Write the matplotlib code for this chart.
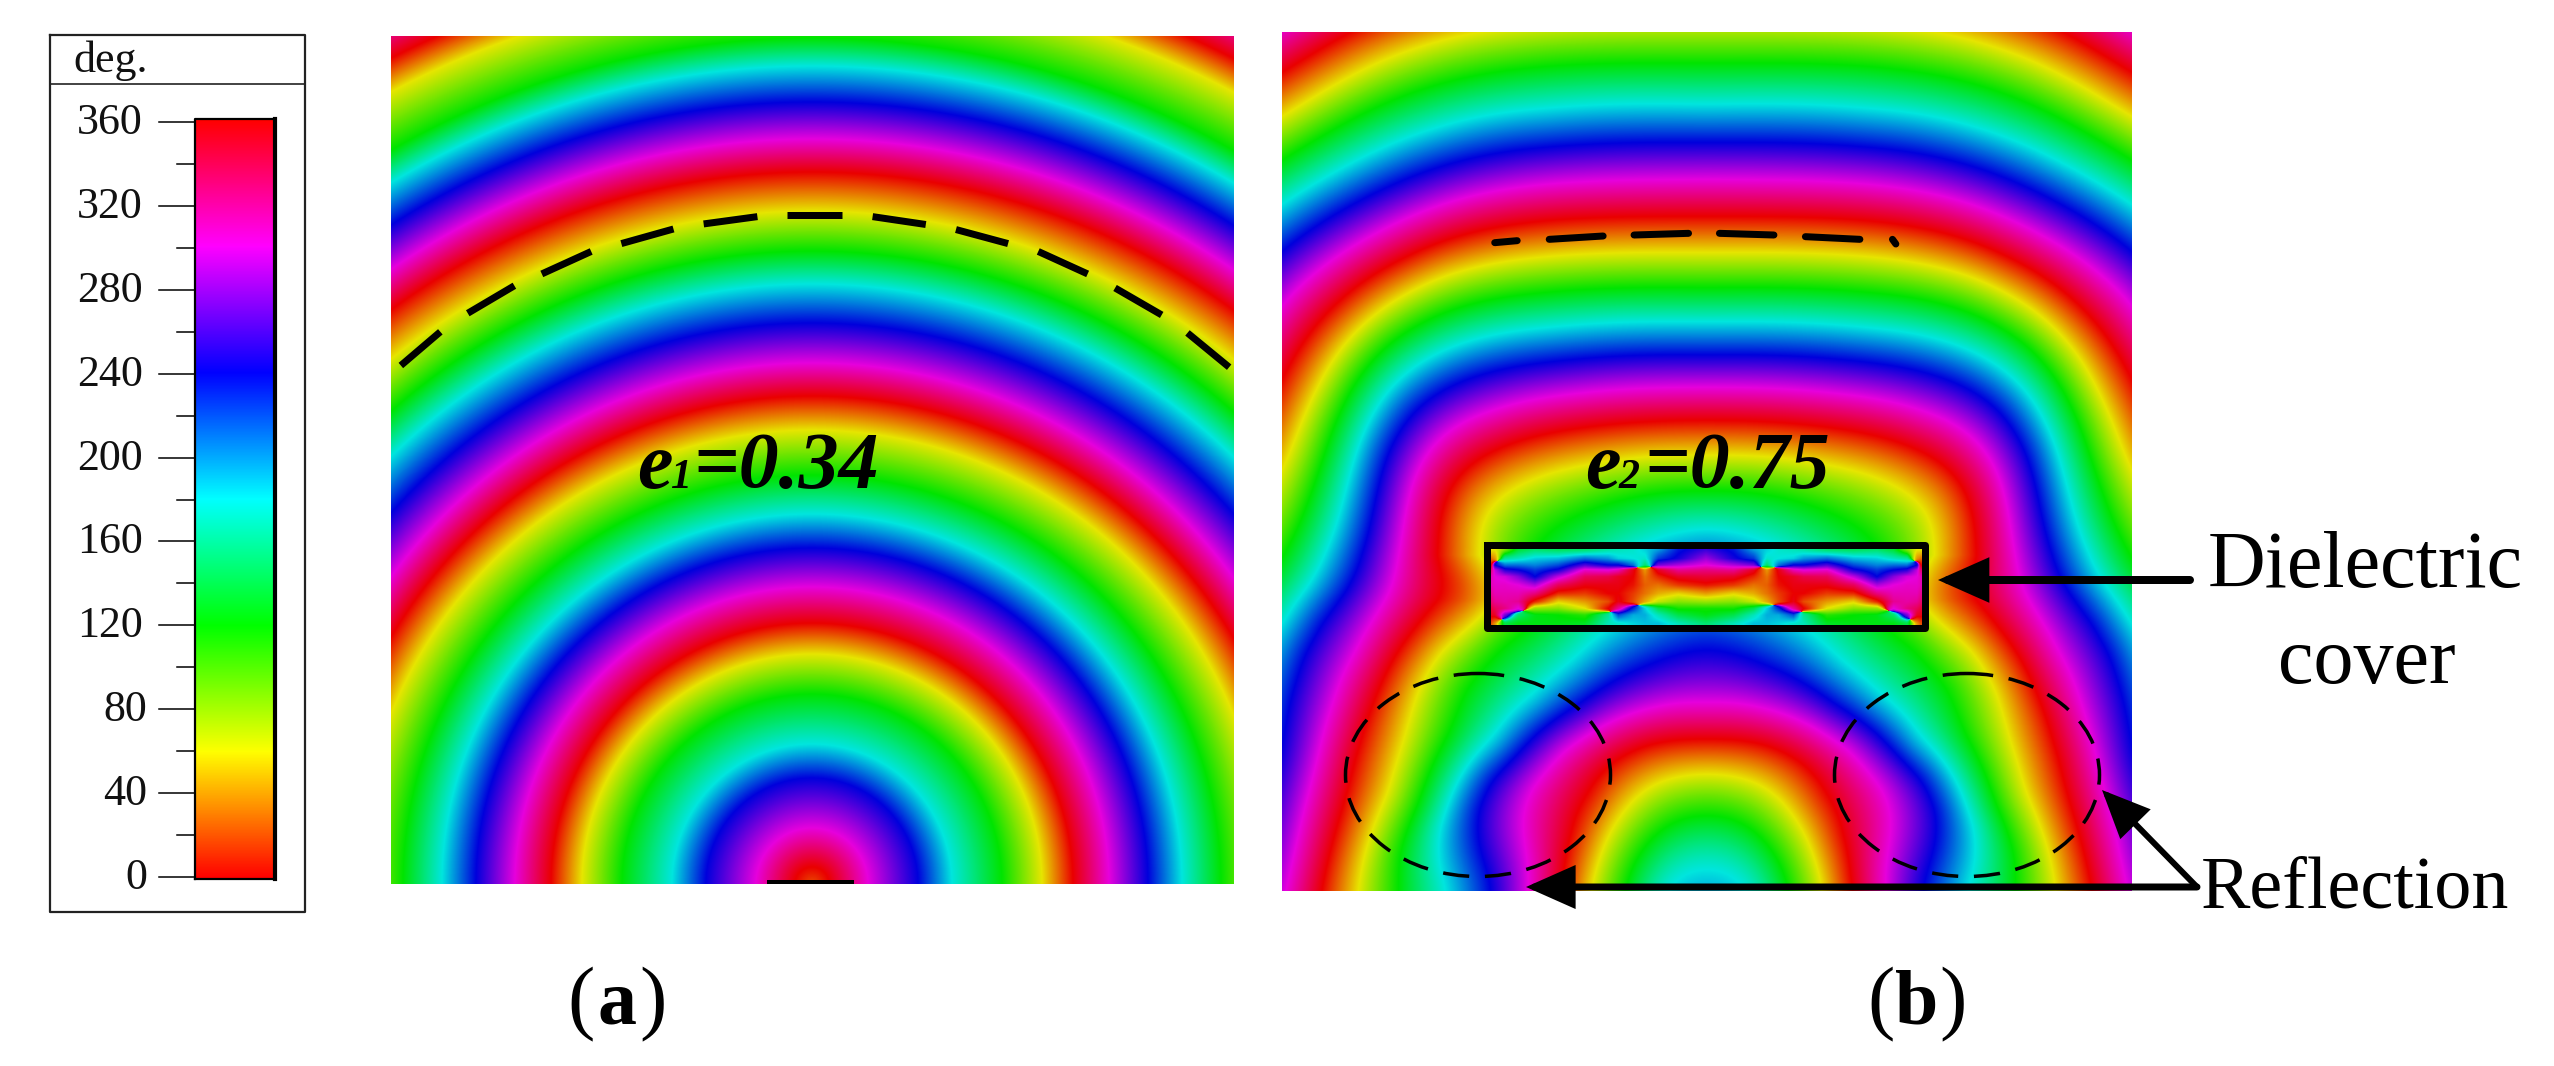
import numpy as np
import matplotlib
matplotlib.use('Agg')
import matplotlib.pyplot as plt
from matplotlib.colors import LinearSegmentedColormap
from matplotlib.patches import Ellipse

# colour bar
bar_ticks = [0, 40, 80, 120, 160, 200, 240, 280, 320, 360]
bar_minor = [20, 60, 100, 140, 180, 220, 260, 300, 340]

# panel (a): radius from the source (px) and phase (deg)
a_radius = [0, 17, 56, 106, 140, 190, 230, 261, 297, 336, 370, 409, 454, 488, 521, 561,
            600, 633, 673, 712, 745, 782, 818, 846, 897, 927, 1000]
a_phase = [20, 0, -60, -120, -180, -240, -300, -360, -420, -480, -540, -600, -660, -720, -780, -840,
           -900, -960, -1020, -1080, -1140, -1200, -1260, -1320, -1380, -1440, -1560]

# panel (b), above the cover: points along the lines of equal phase
up_levels = [-780, -720, -660, -600, -540, -480, -420, -360, -300, -240, -180, -120, -60, 0, 60, 120, 180, 240]
up_lines = [
    [(25, 37)],
    [(130, 37), (25, 170)],
    [(340, 37), (200, 110), (100, 200), (25, 290)],
    [(778, 130), (500, 130), (300, 190), (150, 290), (25, 420)],
    [(778, 270), (500, 280), (300, 330), (150, 430), (25, 540)],
    [(778, 365), (500, 385), (350, 420), (200, 510), (25, 690)],
    [(778, 470), (500, 485), (350, 530), (200, 640), (25, 800)],
    [(778, 590), (500, 600), (350, 640), (250, 720), (120, 880), (25, 1100)],
    [(778, 700), (500, 710), (300, 760), (180, 900), (100, 1100), (60, 1300)],
    [(778, 810), (500, 820), (300, 880), (200, 960), (140, 1100), (60, 1500), (25, 1680)],
    [(778, 905), (500, 930), (300, 1000), (200, 1120), (170, 1250), (130, 1500), (70, 1700), (30, 1800)],
    [(778, 1020), (500, 1030), (350, 1080), (250, 1150), (190, 1280), (190, 1500), (140, 1700), (87, 1800), (57, 1900)],
    [(778, 1100), (550, 1130), (400, 1200), (280, 1290), (240, 1500), (225, 1700), (181, 1800), (158, 1900)],
    [(778, 1190), (500, 1240), (400, 1300), (300, 1400), (290, 1540), (340, 1660), (330, 1700), (259, 1830), (217, 1930)],
    [(778, 1340), (500, 1350), (370, 1430), (350, 1540), (385, 1640)],
    [(778, 1440), (560, 1500), (410, 1540)],
    [(778, 1520), (700, 1540)],
    [(778, 1560)],
]

# panel (b), below the cover
low_levels = [120, 180, 240, 300, 360, 420, 480, 540, 590, 600, 660, 720, 780, 840, 900]
low_lines = [
    [(65, -300)],
    [(183, -300), (82, -99), (15, 0)],
    [(284, -300), (200, -99), (110, 0), (60, 100), (20, 250), (5, 400)],
    [(368, -300), (335, -99), (270, 0), (230, 100), (160, 250), (110, 400), (70, 550), (40, 700), (20, 810)],
    [(453, -260), (537, -140), (537, -99), (400, 30), (330, 120), (250, 300), (210, 420), (170, 600), (120, 780)],
    [(590, 15), (470, 90), (400, 220), (370, 360), (330, 520), (270, 640), (230, 780)],
    [(640, 60), (540, 200), (510, 350), (420, 560), (345, 700), (350, 810)],
    [(950, 40), (870, 130), (760, 240), (650, 370), (520, 500), (460, 620), (465, 730), (510, 810)],
    [(1275, 45)],
    [(1275, 90), (1100, 140), (900, 260), (760, 340), (620, 470), (580, 570), (590, 680), (640, 800)],
    [(1275, 260), (1100, 270), (960, 310), (840, 380), (740, 500), (720, 600), (745, 750)],
    [(1275, 360), (1100, 370), (980, 430), (930, 530), (880, 650), (850, 780)],
    [(1275, 460), (1120, 490), (1040, 560), (970, 660), (925, 780)],
    [(1275, 590), (1170, 610), (1080, 700), (1040, 810)],
    [(1275, 760), (1160, 790), (1130, 810)],
]

# inside the cover: phase on a coarse grid, left half (crop units)
cov_x = [18, 30, 60, 100, 150, 220, 300, 370, 400, 445, 480, 520, 580, 663]
cov_y = [15, 40, 60, 75, 95, 120, 145, 170, 190, 210, 235]
cov_phase = [
    [60, 30, 0, 330, 310, 310, 320, 330, 345, 355, 20],
    [60, 40, 240, 290, 300, 305, 310, 320, 335, 350, 40],
    [90, 160, 210, 250, 295, 305, 310, 315, 325, 270, 140],
    [135, 170, 210, 240, 275, 300, 310, 320, 300, 150, 125],
    [150, 185, 205, 225, 240, 285, 325, 10, 80, 125, 125],
    [145, 190, 220, 245, 290, 335, 10, 55, 85, 120, 125],
    [150, 210, 260, 305, 335, 355, 15, 40, 60, 110, 130],
    [165, 200, 240, 300, 340, 355, 0, 20, 0, 160, 170],
    [170, 185, 240, 310, 350, 355, 0, 355, 320, 220, 175],
    [175, 180, 210, 355, 0, 5, 15, 20, 230, 195, 185],
    [185, 175, 150, 40, 30, 25, 30, 45, 185, 195, 190],
    [200, 225, 270, 350, 10, 30, 45, 70, 140, 170, 190],
    [235, 245, 285, 320, 350, 15, 55, 85, 115, 140, 170],
    [255, 280, 300, 325, 345, 5, 40, 80, 115, 125, 150],
]

# dashed wave fronts, start and end of every dash (crop units)
a_dashes = [(38, 615), (110, 555), (160, 522), (245, 473), (295, 452), (385, 412), (440, 398), (535, 372),
            (590, 363), (688, 350), (742, 347), (842, 347), (898, 350), (995, 364), (1050, 373), (1145, 398),
            (1200, 412), (1290, 452), (1340, 477), (1425, 525), (1472, 557), (1548, 618)]
b_dashes = [(400, 668), (440, 662), (497, 658), (593, 648), (648, 645), (745, 640),
            (800, 640), (897, 645), (953, 650), (1050, 658), (1108, 658), (1114, 672)]

SERIF = 'Liberation Serif'
hues = ['#ea0000', '#e6e600', '#00e400', '#00e6de', '#0000dc', '#e600dc', '#ea0000']
hues_bar = ['#ff0000', '#ffff00', '#00ff00', '#00ffff', '#0000ff', '#ff00ff', '#ff0000']
cmap_panel = LinearSegmentedColormap.from_list('phase', hues, N=1024)
cmap_bar = LinearSegmentedColormap.from_list('phase_bar', hues_bar, N=1024)


def px(size):
    # font size in points from a height in pixels
    return size * 72 / 100


def collect(levels, lines, cx, oy, sx, sy):
    xs, ys, vs = [], [], []
    for lev, pts in zip(levels, lines):
        for zx, zy in pts:
            dx = (cx - zx) / sx
            y = oy + zy / sy
            xs.append(dx)
            ys.append(y)
            vs.append(lev)
            if dx > 1:
                xs.append(-dx)
                ys.append(y)
                vs.append(lev)
    return np.array(xs), np.array(ys), np.array(vs, float)


def tps_field(xs, ys, vs, gx, gy, lam):
    # smoothing thin plate spline through the phase points, evaluated row by row
    xn, yn = xs / 100, ys / 100
    n = len(xn)
    r2 = (xn[:, None] - xn[None, :]) ** 2 + (yn[:, None] - yn[None, :]) ** 2
    K = 0.5 * r2 * np.log(r2 + 1e-9) + lam * np.eye(n)
    P = np.column_stack([np.ones(n), xn, yn])
    A = np.block([[K, P], [P.T, np.zeros((3, 3))]])
    sol = np.linalg.solve(A, np.r_[vs, np.zeros(3)])
    w, c = sol[:n], sol[n:]
    out = np.zeros((len(gy), len(gx)))
    gxn = gx / 100
    for i, yy in enumerate(gy / 100):
        d2 = (gxn[:, None] - xn) ** 2 + (yy - yn) ** 2
        out[i] = (0.5 * d2 * np.log(d2 + 1e-9)) @ w + c[0] + c[1] * gxn + c[2] * yy
    return out


def interp_cols(new, old, arr):
    # interp along the first axis
    return np.array([np.interp(new, old, arr[:, j]) for j in range(arr.shape[1])]).T


fig = plt.figure(figsize=(25.54, 10.66), dpi=100)
ax = fig.add_axes([0, 0, 1, 1])

# colour bar box
y0, y360 = 877, 122
ax.plot([50, 305, 305, 50, 50], [35, 35, 912, 912, 35], color='#222222', lw=1.6)
ax.plot([50, 305], [84, 84], color='#222222', lw=1.2)
ax.imshow(np.linspace(360, 0, 760)[:, None], cmap=cmap_bar, vmin=0, vmax=360, aspect='auto',
          extent=[195, 275, y0 + 2, y360 - 3])
ax.plot([195, 275, 275, 195, 195], [y0 + 2, y0 + 2, y360 - 3, y360 - 3, y0 + 2], color='k', lw=1.6)
ax.plot([275, 275], [y0 + 2, y360 - 3], color='k', lw=3)
for v in bar_ticks:
    yy = y0 - v * (y0 - y360) / 360
    ax.plot([159, 195], [yy, yy], color='k', lw=1.1)
    right = 147 if v < 100 else 143
    ax.text(right, yy + 1, str(v), ha='right', va='center', family=SERIF, fontsize=px(44), color='#111111')
for v in bar_minor:
    yy = y0 - v * (y0 - y360) / 360
    ax.plot([177, 195], [yy, yy], color='k', lw=1.1)
ax.text(111, 72, 'deg.', ha='center', va='baseline', family=SERIF, fontsize=px(44), color='#111111')

# panel (a)
ax_l, ax_r, ax_t, ax_b = 391, 1234, 36, 884
gx, gy = np.meshgrid(np.arange(ax_l, ax_r) + 0.5, np.arange(ax_t, ax_b) + 0.5)
rad = np.hypot(gx - 812, gy - 884)
field_a = np.interp(rad, a_radius, a_phase)
ax.imshow(np.mod(field_a, 360), cmap=cmap_panel, vmin=0, vmax=360, aspect='auto',
          extent=[ax_l, ax_r, ax_b, ax_t], interpolation='nearest')
for i in range(0, len(a_dashes), 2):
    (x1, y1), (x2, y2) = a_dashes[i], a_dashes[i + 1]
    ax.plot([380 + x1 / 1.823, 380 + x2 / 1.823], [20 + y1 / 1.78, 20 + y2 / 1.78],
            color='k', lw=px(7), solid_capstyle='butt')
ax.plot([769, 852], [882, 882], color='k', lw=px(4))

# panel (b)
bl, br, bt, bb = 1282, 2132, 32, 891
cx_b = 1707
gxb = np.arange(bl, br) + 0.5 - cx_b
gyb = np.arange(bt, bb) + 0.5
ux, uy, uv = collect(up_levels, up_lines, 778, 20, 1.78, 3.0)
lx, ly, lv = collect(low_levels, low_lines, 1275, 620, 3.0, 3.0)
upper = tps_field(ux, uy, uv, gxb, gyb, 2.0)
lower = tps_field(lx, ly, lv, gxb, gyb, 0.3)
w = np.clip((gyb - 555) / 45, 0, 1)[:, None]
z = (1 - w) * np.exp(1j * np.radians(upper)) + w * np.exp(1j * np.radians(lower))

# cover interior, interpolated on the unit circle so the phase jumps stay sharp
cov = np.radians(np.array(cov_phase, float))
cov_px = (663 - np.array(cov_x)) / 3.0
cov_py = 545 + np.array(cov_y) / 3.0
order = np.argsort(cov_px)
cov_px = cov_px[order]
re, im = np.cos(cov)[order], np.sin(cov)[order]
in_y = np.arange(bt, bb)[(gyb > 548) & (gyb < 626)]
in_x = np.arange(bl, br)[(np.abs(gxb + 1) < 218)]
re2 = interp_cols(in_y + 0.5, cov_py, re.T)
im2 = interp_cols(in_y + 0.5, cov_py, im.T)
dist = np.abs(in_x + 0.5 - 1706)
re3 = np.array([np.interp(dist, cov_px, row) for row in re2])
im3 = np.array([np.interp(dist, cov_px, row) for row in im2])
z[np.ix_(in_y - bt, in_x - bl)] = re3 + 1j * im3

field_b = np.degrees(np.angle(z))
ax.imshow(np.mod(field_b, 360), cmap=cmap_panel, vmin=0, vmax=360, aspect='auto',
          extent=[bl, br, bb, bt], interpolation='nearest')
for i in range(0, len(b_dashes), 2):
    (x1, y1), (x2, y2) = b_dashes[i], b_dashes[i + 1]
    ax.plot([1270 + x1 / 1.78, 1270 + x2 / 1.78], [20 + y1 / 3, 20 + y2 / 3],
            color='k', lw=px(7), solid_capstyle='round')

# dielectric cover and reflection regions
ax.plot([1487, 1925, 1925, 1487, 1487], [545, 545, 628, 628, 545], color='k', lw=px(7),
        solid_joinstyle='round')
for cx in [1478, 1967]:
    ax.add_patch(Ellipse((cx, 775), 265, 203, fill=False, ec='k', lw=px(3.5),
                         linestyle=(0, (7.5, 4.5))))


# arrows
def arrow(x1, y1, x2, y2, lw):
    ax.annotate('', xy=(x2, y2), xytext=(x1, y1),
                arrowprops=dict(arrowstyle='-|>,head_length=27,head_width=12', mutation_scale=1,
                                lw=px(lw), color='k', shrinkA=0, shrinkB=0, joinstyle='miter'))


arrow(2190, 580, 1938, 580, 8)
arrow(2197, 887, 1526, 887, 7)
arrow(2197, 887, 2102, 790, 6)

# labels
for base_x, sub, rest, sub_x, rest_x in [(637, '1', '=0.34', 670, 693), (1585, '2', '=0.75', 1619, 1644)]:
    ax.text(base_x, 488, 'e', family=SERIF, style='italic', weight='bold', fontsize=px(80), va='baseline')
    ax.text(sub_x, 488, sub, family=SERIF, style='italic', weight='bold', fontsize=px(42), va='baseline')
    ax.text(rest_x, 488, rest, family=SERIF, style='italic', weight='bold', fontsize=px(80), va='baseline')
ax.text(2365, 587, 'Dielectric', family=SERIF, fontsize=px(80), ha='center', va='baseline')
ax.text(2367, 683, 'cover', family=SERIF, fontsize=px(80), ha='center', va='baseline')
ax.text(2355, 908, 'Reflection', family=SERIF, fontsize=px(74), ha='center', va='baseline')
for cx, letter in [(617, 'a'), (1917, 'b')]:
    ax.text(cx - 22, 1024, '(', family=SERIF, fontsize=px(82), ha='right', va='baseline')
    ax.text(cx, 1024, letter, family=SERIF, weight='bold', fontsize=px(78), ha='center', va='baseline')
    ax.text(cx + 22, 1024, ')', family=SERIF, fontsize=px(82), ha='left', va='baseline')

ax.set_xlim(0, 2554)
ax.set_ylim(1066, 0)
ax.axis('off')
fig.savefig('out.png', dpi=100)
